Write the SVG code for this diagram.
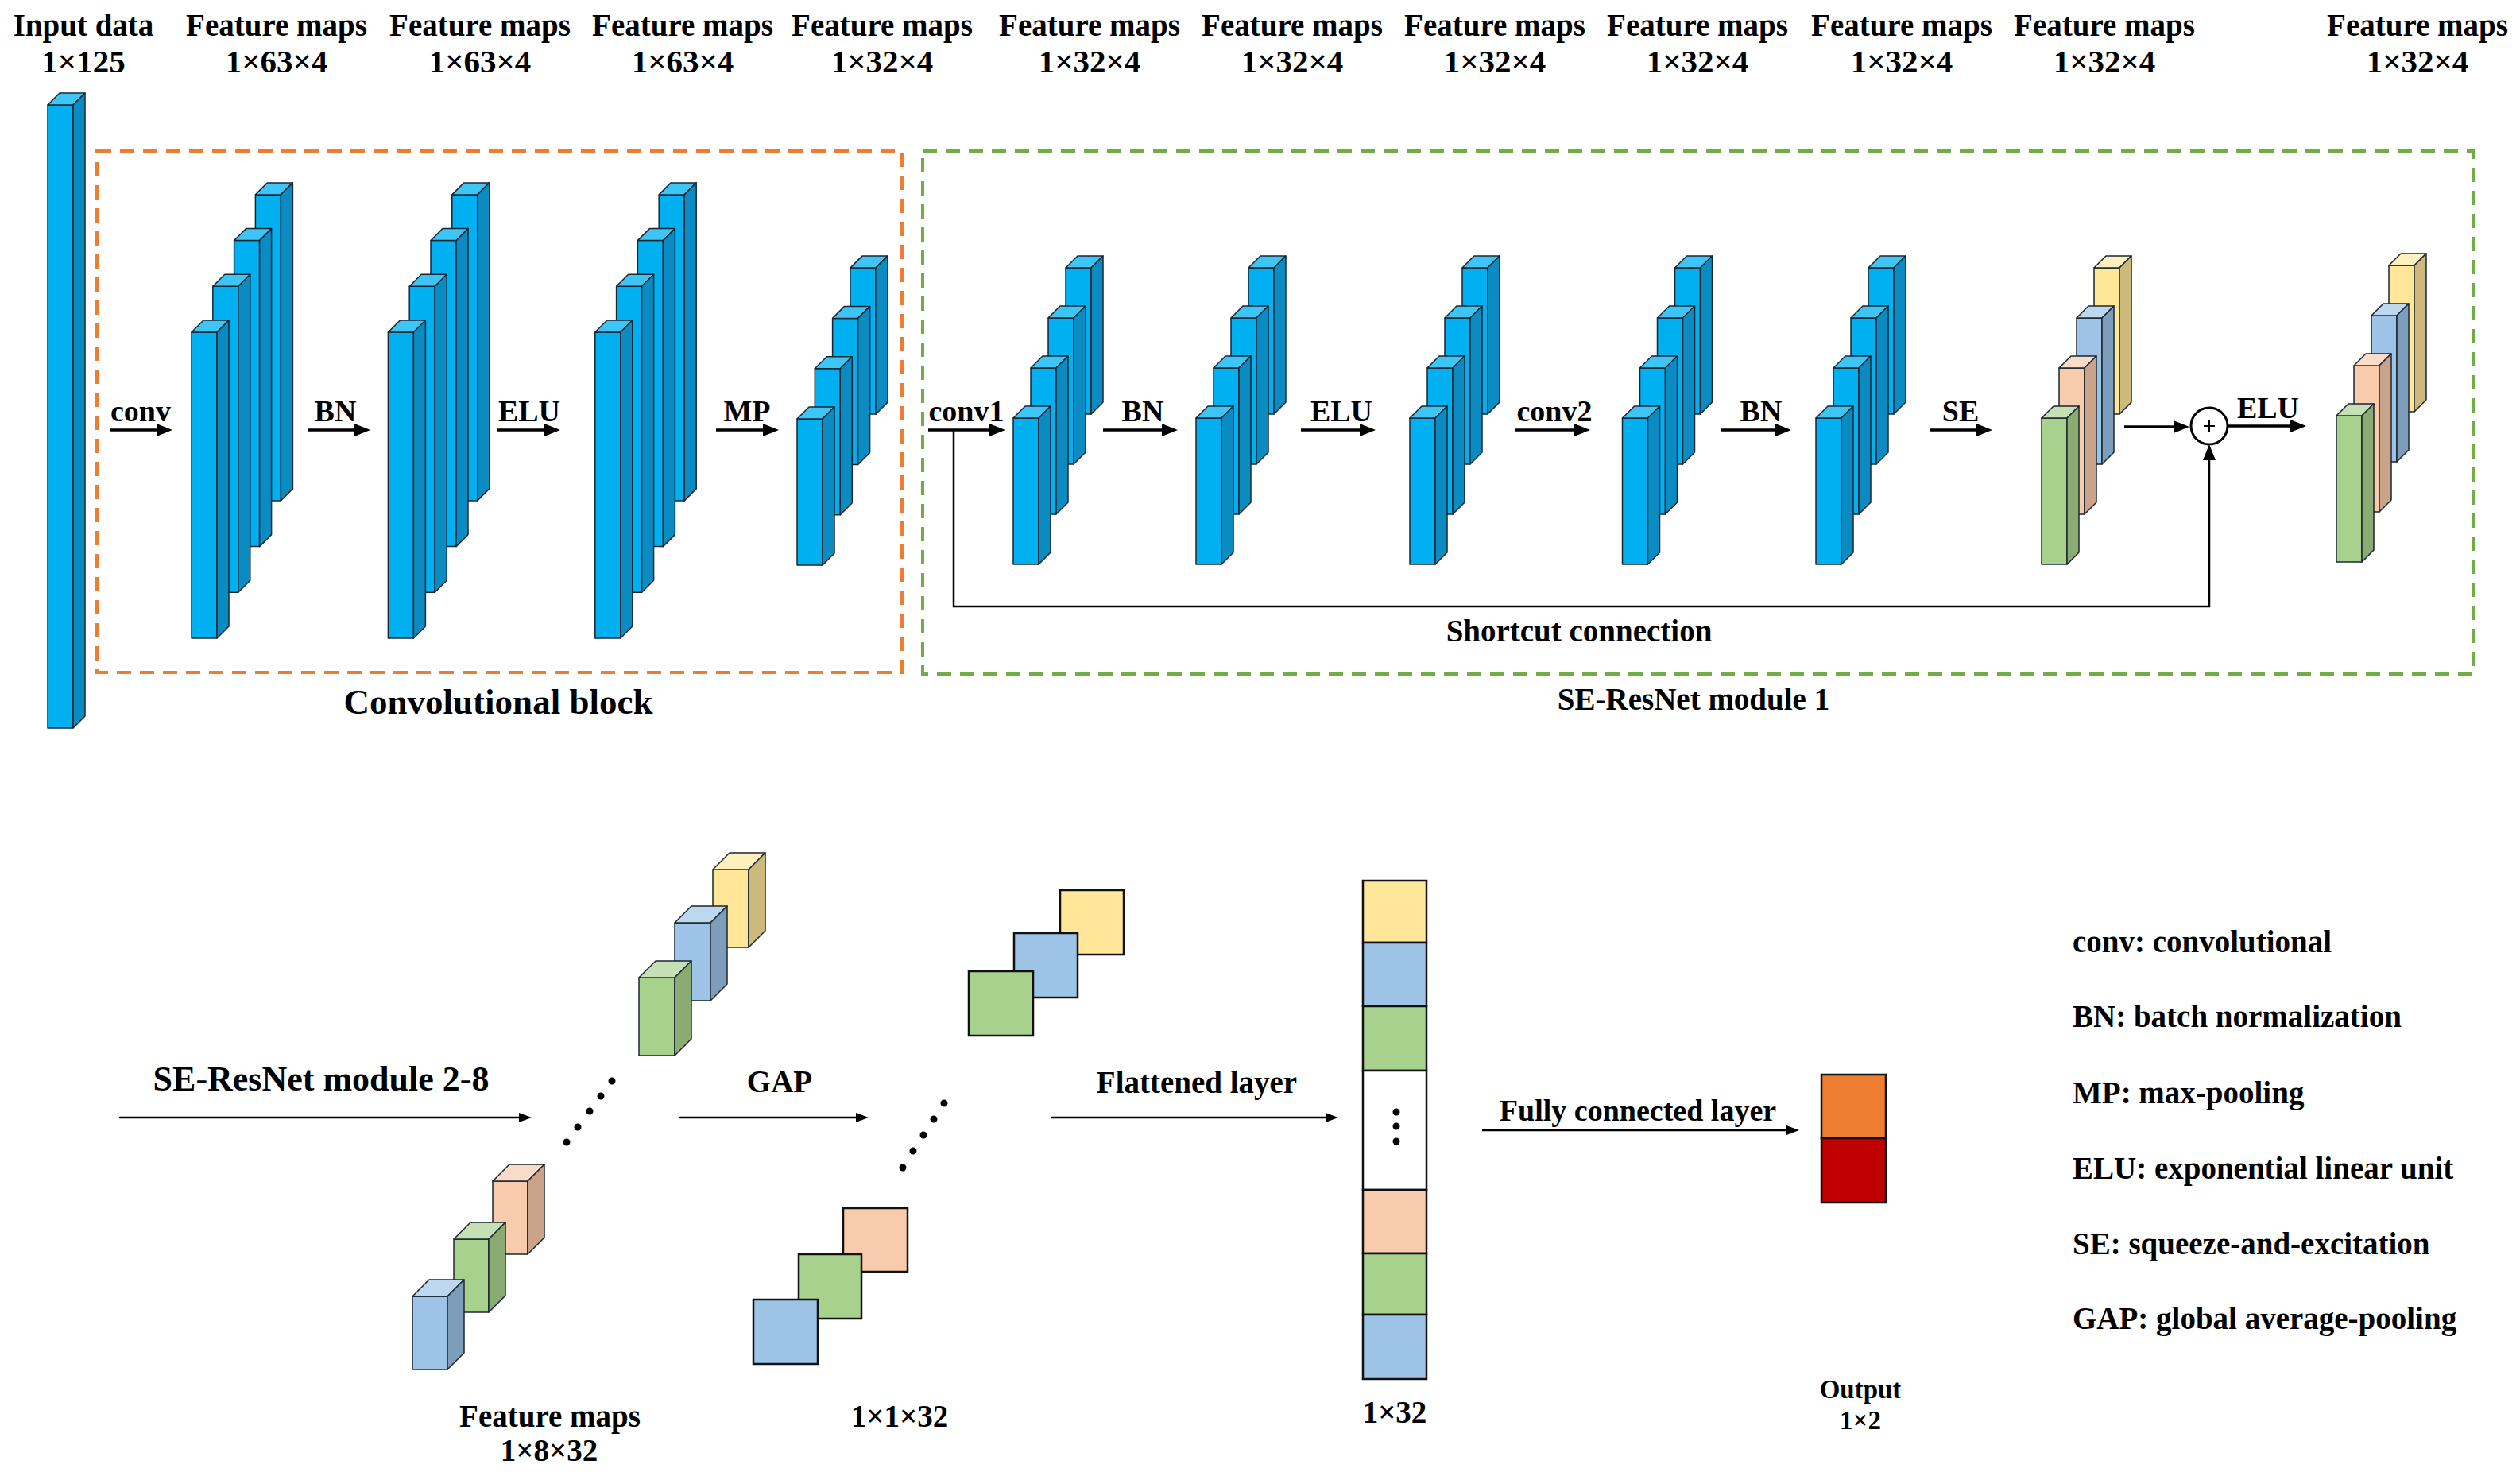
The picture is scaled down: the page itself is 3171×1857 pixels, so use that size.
<svg xmlns="http://www.w3.org/2000/svg" width="3171" height="1857" viewBox="0 0 3171 1857">
<style>
.t{font-family:"Liberation Serif","Times New Roman",serif;font-weight:bold;fill:#000;text-anchor:middle}
.l{text-anchor:start}
.h1{font-size:39px}.h2{font-size:41px}
.o{stroke:#1b2631;stroke-width:1.5;stroke-linejoin:round}
.bf{fill:#00B0F0}.bt{fill:#3CC5F5}.bs{fill:#0A8CC2}
.gf{fill:#A9D18E}.gt{fill:#C5E0B4}.gs{fill:#8AAC72}
.pf{fill:#F8CBAD}.pt{fill:#FBDCC8}.ps{fill:#C9A38A}
.lf{fill:#9DC3E6}.lt{fill:#BDD7EE}.ls{fill:#7E9DBA}
.yf{fill:#FFE699}.yt{fill:#FFF0BE}.ys{fill:#CDB97C}
.sq{stroke:#111;stroke-width:2.5}
.ar{stroke:#000;stroke-width:3.5;fill:none}
.ar2{stroke:#000;stroke-width:2.5;fill:none}
</style>
<defs>
<marker id="ah" markerUnits="userSpaceOnUse" viewBox="0 0 20 16" markerWidth="20" markerHeight="16" refX="10" refY="8" orient="auto"><path d="M0,0 L20,8 L0,16 z" fill="#000"/></marker>
<marker id="ah2" markerUnits="userSpaceOnUse" viewBox="0 0 16 12" markerWidth="16" markerHeight="12" refX="8" refY="6" orient="auto"><path d="M0,0 L16,6 L0,12 z" fill="#000"/></marker>
<g id="bI" class="o"><rect class="bf" x="0" y="0" width="32" height="784"/><polygon class="bt" points="0,0 15,-15 47,-15 32,0"/><polygon class="bs" points="32,0 47,-15 47,769 32,784"/></g>
<g id="bL" class="o"><rect class="bf" x="0" y="0" width="32" height="385"/><polygon class="bt" points="0,0 15,-15 47,-15 32,0"/><polygon class="bs" points="32,0 47,-15 47,370 32,385"/></g>
<g id="bS" class="o"><rect class="bf" x="0" y="0" width="32" height="184"/><polygon class="bt" points="0,0 15,-15 47,-15 32,0"/><polygon class="bs" points="32,0 47,-15 47,169 32,184"/></g>
<g id="gS" class="o"><rect class="gf" x="0" y="0" width="32" height="184"/><polygon class="gt" points="0,0 15,-15 47,-15 32,0"/><polygon class="gs" points="32,0 47,-15 47,169 32,184"/></g>
<g id="pS" class="o"><rect class="pf" x="0" y="0" width="32" height="184"/><polygon class="pt" points="0,0 15,-15 47,-15 32,0"/><polygon class="ps" points="32,0 47,-15 47,169 32,184"/></g>
<g id="lS" class="o"><rect class="lf" x="0" y="0" width="32" height="184"/><polygon class="lt" points="0,0 15,-15 47,-15 32,0"/><polygon class="ls" points="32,0 47,-15 47,169 32,184"/></g>
<g id="yS" class="o"><rect class="yf" x="0" y="0" width="32" height="184"/><polygon class="yt" points="0,0 15,-15 47,-15 32,0"/><polygon class="ys" points="32,0 47,-15 47,169 32,184"/></g>
</defs>
<rect width="3171" height="1857" fill="#fff"/>

<g id="headers">
<text class="t h1" x="105" y="45">Input data</text><text class="t h2" x="105" y="91">1×125</text>
<text class="t h1" x="348" y="45">Feature maps</text><text class="t h2" x="348" y="91">1×63×4</text>
<text class="t h1" x="604" y="45">Feature maps</text><text class="t h2" x="604" y="91">1×63×4</text>
<text class="t h1" x="859" y="45">Feature maps</text><text class="t h2" x="859" y="91">1×63×4</text>
<text class="t h1" x="1110" y="45">Feature maps</text><text class="t h2" x="1110" y="91">1×32×4</text>
<text class="t h1" x="1371" y="45">Feature maps</text><text class="t h2" x="1371" y="91">1×32×4</text>
<text class="t h1" x="1626" y="45">Feature maps</text><text class="t h2" x="1626" y="91">1×32×4</text>
<text class="t h1" x="1881" y="45">Feature maps</text><text class="t h2" x="1881" y="91">1×32×4</text>
<text class="t h1" x="2136" y="45">Feature maps</text><text class="t h2" x="2136" y="91">1×32×4</text>
<text class="t h1" x="2393" y="45">Feature maps</text><text class="t h2" x="2393" y="91">1×32×4</text>
<text class="t h1" x="2648" y="45">Feature maps</text><text class="t h2" x="2648" y="91">1×32×4</text>
<text class="t h1" x="3042" y="45">Feature maps</text><text class="t h2" x="3042" y="91">1×32×4</text>
</g>

<g id="conv-block">
<rect x="122" y="190" width="1013" height="656" fill="none" stroke="#ED7D31" stroke-width="4" stroke-dasharray="18 11"/>
<text class="t" font-size="45" x="627" y="898">Convolutional block</text>
</g>
<g id="se-module-1">
<rect x="1161" y="190" width="1951" height="658" fill="none" stroke="#70AD47" stroke-width="4" stroke-dasharray="18 11"/>
<text class="t" font-size="39" x="2131" y="893">SE-ResNet module 1</text>
</g>

<g id="input"><use href="#bI" x="60" y="132"/></g>
<g id="fm-conv"><use href="#bL" x="321.4" y="244.9"/><use href="#bL" x="294.6" y="302.6"/><use href="#bL" x="267.8" y="360.3"/><use href="#bL" x="241" y="418"/></g>
<g id="fm-bn"><use href="#bL" x="568.8" y="244.9"/><use href="#bL" x="542" y="302.6"/><use href="#bL" x="515.2" y="360.3"/><use href="#bL" x="488.4" y="418"/></g>
<g id="fm-elu"><use href="#bL" x="829.2" y="244.9"/><use href="#bL" x="802.4" y="302.6"/><use href="#bL" x="775.6" y="360.3"/><use href="#bL" x="748.8" y="418"/></g>
<g id="fm-mp"><use href="#bS" x="1069.9" y="337.1"/><use href="#bS" x="1047.6" y="400.4"/><use href="#bS" x="1025.3" y="463.7"/><use href="#bS" x="1003" y="527"/></g>
<g id="fm-conv1"><use href="#bS" x="1341" y="337"/><use href="#bS" x="1319" y="400"/><use href="#bS" x="1297" y="463"/><use href="#bS" x="1275" y="526"/></g>
<g id="fm-bn1"><use href="#bS" x="1571" y="337"/><use href="#bS" x="1549" y="400"/><use href="#bS" x="1527" y="463"/><use href="#bS" x="1505" y="526"/></g>
<g id="fm-elu1"><use href="#bS" x="1840" y="337"/><use href="#bS" x="1818" y="400"/><use href="#bS" x="1796" y="463"/><use href="#bS" x="1774" y="526"/></g>
<g id="fm-conv2"><use href="#bS" x="2107.5" y="337"/><use href="#bS" x="2085.5" y="400"/><use href="#bS" x="2063.5" y="463"/><use href="#bS" x="2041.5" y="526"/></g>
<g id="fm-bn2"><use href="#bS" x="2351" y="337"/><use href="#bS" x="2329" y="400"/><use href="#bS" x="2307" y="463"/><use href="#bS" x="2285" y="526"/></g>
<g id="fm-se"><use href="#yS" x="2635" y="337"/><use href="#lS" x="2613" y="400"/><use href="#pS" x="2591" y="463"/><use href="#gS" x="2569" y="526"/></g>
<g id="fm-out1"><use href="#yS" x="3006" y="334"/><use href="#lS" x="2984" y="397"/><use href="#pS" x="2962" y="460"/><use href="#gS" x="2940" y="523"/></g>

<g id="sum">
<circle cx="2780" cy="536" r="23" fill="#fff" stroke="#000" stroke-width="3"/>
<path d="M2773,536 H2787 M2780,529 V543" stroke="#000" stroke-width="2"/>
</g>

<g id="connectors">
<line class="ar" x1="138" y1="541" x2="207" y2="541" marker-end="url(#ah)"/>
<line class="ar" x1="387" y1="541" x2="456" y2="541" marker-end="url(#ah)"/>
<line class="ar" x1="626" y1="541" x2="695" y2="541" marker-end="url(#ah)"/>
<line class="ar" x1="901" y1="541" x2="970" y2="541" marker-end="url(#ah)"/>
<line class="ar" x1="1168" y1="541" x2="1255" y2="541" marker-end="url(#ah)"/>
<line class="ar" x1="1388" y1="541" x2="1472" y2="541" marker-end="url(#ah)"/>
<line class="ar" x1="1637" y1="541" x2="1721" y2="541" marker-end="url(#ah)"/>
<line class="ar" x1="1906" y1="541" x2="1991" y2="541" marker-end="url(#ah)"/>
<line class="ar" x1="2166" y1="541" x2="2244" y2="541" marker-end="url(#ah)"/>
<line class="ar" x1="2428" y1="541" x2="2497" y2="541" marker-end="url(#ah)"/>
<line class="ar" x1="2673" y1="537" x2="2745" y2="537" marker-end="url(#ah)"/>
<line class="ar" x1="2804" y1="536" x2="2892" y2="536" marker-end="url(#ah)"/>
<path class="ar2" d="M1200,541 V763 H2780 V569" marker-end="url(#ah)"/>
<line class="ar2" x1="150" y1="1406" x2="661" y2="1406" marker-end="url(#ah2)"/>
<line class="ar2" x1="854" y1="1406" x2="1085" y2="1406" marker-end="url(#ah2)"/>
<line class="ar2" x1="1323" y1="1406" x2="1676" y2="1406" marker-end="url(#ah2)"/>
<line class="ar2" x1="1865" y1="1422" x2="2256" y2="1422" marker-end="url(#ah2)"/>
</g>

<g id="labels">
<text class="t" font-size="38" x="177" y="530">conv</text>
<text class="t" font-size="38" x="422" y="530">BN</text>
<text class="t" font-size="38" x="666" y="530">ELU</text>
<text class="t" font-size="38" x="940" y="530">MP</text>
<text class="t" font-size="38" x="1216" y="530">conv1</text>
<text class="t" font-size="38" x="1438" y="530">BN</text>
<text class="t" font-size="38" x="1688" y="530">ELU</text>
<text class="t" font-size="38" x="1956" y="530">conv2</text>
<text class="t" font-size="38" x="2216" y="530">BN</text>
<text class="t" font-size="38" x="2467" y="530">SE</text>
<text class="t" font-size="38" x="2854" y="526">ELU</text>
<text class="t" font-size="39" x="1987" y="807">Shortcut connection</text>
<text class="t" font-size="44" x="404" y="1372">SE-ResNet module 2-8</text>
<text class="t" font-size="39" x="981" y="1374">GAP</text>
<text class="t" font-size="39" x="1506" y="1375">Flattened layer</text>
<text class="t" font-size="38" x="2061" y="1410">Fully connected layer</text>
</g>

<g id="fm-8x32">
<g class="o">
<rect class="yf" x="897" y="1094" width="45" height="98"/><polygon class="yt" points="897,1094 918,1073 963,1073 942,1094"/><polygon class="ys" points="942,1094 963,1073 963,1171 942,1192"/>
<rect class="lf" x="849" y="1161" width="45" height="98"/><polygon class="lt" points="849,1161 870,1140 915,1140 894,1161"/><polygon class="ls" points="894,1161 915,1140 915,1238 894,1259"/>
<rect class="gf" x="804" y="1230" width="45" height="98"/><polygon class="gt" points="804,1230 825,1209 870,1209 849,1230"/><polygon class="gs" points="849,1230 870,1209 870,1307 849,1328"/>
<rect class="pf" x="620" y="1486" width="44" height="92"/><polygon class="pt" points="620,1486 641,1465 685,1465 664,1486"/><polygon class="ps" points="664,1486 685,1465 685,1557 664,1578"/>
<rect class="gf" x="571" y="1559" width="44" height="92"/><polygon class="gt" points="571,1559 592,1538 636,1538 615,1559"/><polygon class="gs" points="615,1559 636,1538 636,1630 615,1651"/>
<rect class="lf" x="519" y="1631" width="44" height="92"/><polygon class="lt" points="519,1631 540,1610 584,1610 563,1631"/><polygon class="ls" points="563,1631 584,1610 584,1702 563,1723"/>
</g>
<g fill="#000"><circle cx="770" cy="1360" r="4.5"/><circle cx="756" cy="1379" r="4.5"/><circle cx="742" cy="1398" r="4.5"/><circle cx="727" cy="1418" r="4.5"/><circle cx="713" cy="1437" r="4.5"/></g>
<text class="t" font-size="39" x="692" y="1795">Feature maps</text>
<text class="t" font-size="39" x="691" y="1838">1×8×32</text>
</g>

<g id="gap-out">
<rect class="yf sq" x="1334" y="1120" width="80" height="81"/>
<rect class="lf sq" x="1276" y="1174" width="80" height="81"/>
<rect class="gf sq" x="1219" y="1222" width="81" height="81"/>
<rect class="pf sq" x="1061" y="1520" width="81" height="80"/>
<rect class="gf sq" x="1005" y="1578" width="79" height="81"/>
<rect class="lf sq" x="948" y="1635" width="81" height="81"/>
<g fill="#000"><circle cx="1188" cy="1388" r="4.5"/><circle cx="1175" cy="1408" r="4.5"/><circle cx="1162" cy="1428" r="4.5"/><circle cx="1149" cy="1448" r="4.5"/><circle cx="1136" cy="1469" r="4.5"/></g>
<text class="t" font-size="39" x="1132" y="1795">1×1×32</text>
</g>

<g id="flatten">
<rect class="yf sq" x="1715" y="1108" width="80" height="78"/>
<rect class="lf sq" x="1715" y="1186" width="80" height="80"/>
<rect class="gf sq" x="1715" y="1266" width="80" height="81"/>
<rect fill="#fff" class="sq" x="1715" y="1347" width="80" height="150"/>
<rect class="pf sq" x="1715" y="1497" width="80" height="80"/>
<rect class="gf sq" x="1715" y="1577" width="80" height="77"/>
<rect class="lf sq" x="1715" y="1654" width="80" height="81"/>
<g fill="#000"><circle cx="1757" cy="1399" r="4.5"/><circle cx="1757" cy="1417" r="4.5"/><circle cx="1757" cy="1436" r="4.5"/></g>
<text class="t" font-size="39" x="1755" y="1790">1×32</text>
</g>

<g id="output">
<rect fill="#ED7D31" class="sq" x="2292" y="1352" width="81" height="80"/>
<rect fill="#C00000" class="sq" x="2292" y="1432" width="81" height="81"/>
<text class="t" font-size="33" x="2341" y="1759">Output</text>
<text class="t" font-size="33" x="2341" y="1798">1×2</text>
</g>

<g id="legend">
<text class="t l" font-size="39" x="2608" y="1198">conv: convolutional</text>
<text class="t l" font-size="39" x="2608" y="1292">BN: batch normalization</text>
<text class="t l" font-size="39" x="2608" y="1388">MP: max-pooling</text>
<text class="t l" font-size="39" x="2608" y="1483">ELU: exponential linear unit</text>
<text class="t l" font-size="39" x="2608" y="1578">SE: squeeze-and-excitation</text>
<text class="t l" font-size="39" x="2608" y="1672">GAP: global average-pooling</text>
</g>
</svg>
